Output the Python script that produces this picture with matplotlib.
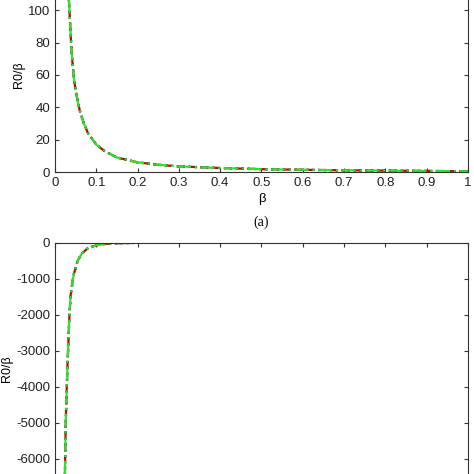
import matplotlib
matplotlib.use("Agg")
import matplotlib.pyplot as plt

plt.rcParams['font.family'] = ['Liberation Sans', 'DejaVu Sans']
plt.rcParams['axes.unicode_minus'] = False

beta_a = [0.032, 0.036, 0.04, 0.045, 0.05, 0.06, 0.07, 0.08, 0.1, 0.12, 0.15, 0.2, 0.25, 0.3, 0.4, 0.5, 0.6, 0.7, 0.8, 0.9, 1.0]
r0_a = [115, 95, 75, 60, 50, 38, 30, 24, 17, 13, 9, 6, 4.5, 3.5, 2.5, 1.8, 1.4, 1.1, 0.9, 0.7, 0.5]

beta_b = [0.022, 0.024, 0.026, 0.03, 0.035, 0.038, 0.045, 0.055, 0.065, 0.08, 0.1, 0.125, 0.15, 0.2, 0.245]
r0_b = [-8000, -6500, -5000, -3500, -2000, -1450, -900, -500, -300, -150, -70, -30, -15, -5, -2]

xticks = [0, 0.1, 0.2, 0.3, 0.4, 0.5, 0.6, 0.7, 0.8, 0.9, 1]
xticklabels = ['0', '0.1', '0.2', '0.3', '0.4', '0.5', '0.6', '0.7', '0.8', '0.9', '1']

fig = plt.figure(figsize=(4.74, 4.74), dpi=100)

def style(ax):
    ax.tick_params(direction='in', top=True, right=True, labelsize=9.5, length=3, colors='#333333', labelcolor='#222222')
    for s in ax.spines.values():
        s.set_color('#333333')
        s.set_linewidth(0.8)

def curves(ax, x, y):
    ax.plot(x, y, color='#cc0000', ls='--', lw=1.6)
    ax.plot(x, y, color='black', ls=':', lw=1.6)
    ax.plot(x, y, color='#33dd33', ls='-.', lw=1.6)

ax1 = fig.add_axes([0.116, 0.637, 0.871, 0.41])
curves(ax1, beta_a, r0_a)
ax1.set_xlim(0, 1)
ax1.set_ylim(0, 120)
ax1.set_xticks(xticks)
ax1.set_xticklabels(xticklabels)
ax1.set_yticks([0, 20, 40, 60, 80, 100])
ax1.set_ylabel('R0/β', fontsize=9, labelpad=2)
ax1.set_xlabel('β', fontsize=9.5, labelpad=3)
style(ax1)
fig.text(0.55, 1 - 222/474, '(a)', ha='center', va='center', fontsize=10, family='Liberation Serif')

ax2 = fig.add_axes([0.116, -0.044, 0.871, 0.532])
curves(ax2, beta_b, r0_b)
ax2.set_xlim(0, 1)
ax2.set_ylim(-7000, 0)
ax2.set_xticks(xticks)
ax2.set_xticklabels([])
ax2.set_yticks([-6000, -5000, -4000, -3000, -2000, -1000, 0])
ax2.set_ylabel('R0/β', fontsize=9, labelpad=2)
style(ax2)

fig.savefig('out.png', dpi=100)
